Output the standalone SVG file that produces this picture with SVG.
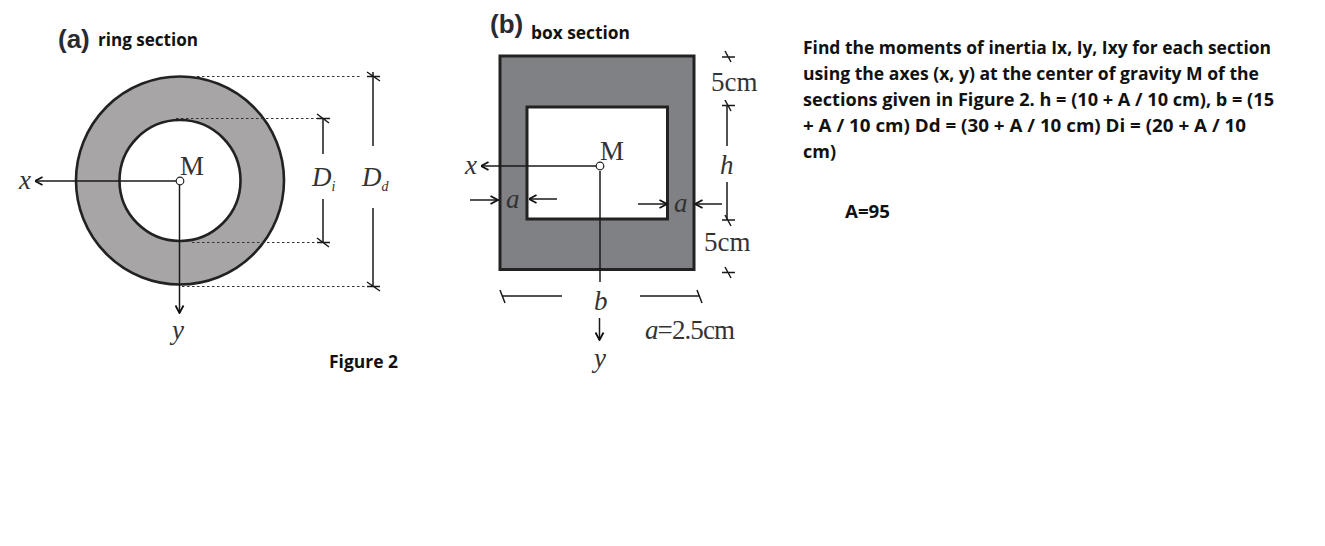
<svg xmlns="http://www.w3.org/2000/svg" width="1325" height="546" viewBox="0 0 1325 546">
<defs>
<marker id="ah" viewBox="0 0 10 10" refX="9.5" refY="5" markerWidth="10" markerHeight="10" markerUnits="userSpaceOnUse" orient="auto"><path d="M2 1L9.500 5L2 9" fill="none" stroke="#111" stroke-width="1.800"/></marker>
</defs>
<style>
.l{stroke:#1a1a1a;stroke-width:1.500;fill:none}
.a{stroke:#1a1a1a;stroke-width:1.500;fill:none;marker-end:url(#ah)}
.d{stroke:#333;stroke-width:1.200;stroke-dasharray:2.500 2.500;fill:none}
.s{font-family:"Open Sans","Liberation Sans",sans-serif;font-weight:700;font-size:18px;fill:#111}
.h{font-family:"Liberation Sans",Arial,sans-serif;font-weight:700;font-size:26px;fill:#2a2a33}
.t{font-family:"Liberation Serif","Times New Roman",serif;font-size:27px;fill:#333}
.i{font-style:italic}
.sm{font-size:14px}
.w{fill:#fff;stroke:#222;stroke-width:1.200}
</style>
<rect width="1325" height="546" fill="#fff"/>
<g id="ring-section">
<circle cx="180" cy="180.500" r="104" fill="#a7a5a6" stroke="#222" stroke-width="2.600"/>
<circle cx="180" cy="180.500" r="60.500" fill="#fff" stroke="#222" stroke-width="2.600"/>
</g>
<g id="box-section">
<rect x="500" y="56" width="194" height="213.500" fill="#808184" stroke="#222" stroke-width="3"/>
<rect x="527" y="107" width="140.500" height="112" fill="#fff" stroke="#222" stroke-width="3"/>
</g>
<g id="connectors">
<path class="d" d="M197 76.500H360M176 118.500H318M192 242.500H318M182 286.500H368"/>
<path class="a" d="M180 181H35"/>
<path class="a" d="M179.500 181V313"/>
<path class="l" d="M373 72V146M373 208V286M323 118V154M323 199V242"/>
<path class="l" d="M367 72L380 81M367 76.500H380M367 282L380 291M367 286.500H380M317 114L329 123M317 118.500H330M317 238L329 247M317 242.500H330"/>
<path class="a" d="M600 166H481"/>
<path class="l" d="M600 171V282"/>
<path class="a" d="M470 200H498"/>
<path class="a" d="M557 199H529"/>
<path class="a" d="M638 204H667"/>
<path class="a" d="M722 204H695"/>
<path class="l" d="M727 106V146M727 182V220"/>
<path class="l" d="M722 57H735M725 51L731 62M722 105.500H735M725 100L731 111M722 220H735M725 215L731 226M722 272.500H735M725 267L731 278"/>
<path class="l" d="M502 296H562M640 296H699M500 290L505 303M697 290L702 303"/>
<path class="a" d="M599.500 318V340"/>
</g>
<circle class="w" cx="180" cy="181" r="3.800"/>
<circle class="w" cx="600" cy="166" r="3.800"/>
<g id="labels-a">
<text class="h" x="58" y="48">(a)</text>
<text class="s" x="98" y="45.500" textLength="100" lengthAdjust="spacingAndGlyphs">ring section</text>
<text class="t i" x="19" y="189">x</text>
<text class="t" x="180" y="175">M</text>
<text class="t i" x="312" y="186">D<tspan class="sm" dy="5">i</tspan></text>
<text class="t i" x="362" y="186">D<tspan class="sm" dy="5">d</tspan></text>
<text class="t i" x="172" y="339">y</text>
<text class="s" x="329" y="367.500" textLength="69" lengthAdjust="spacingAndGlyphs">Figure 2</text>
</g>
<g id="labels-b">
<text class="h" x="490" y="33">(b)</text>
<text class="s" x="531" y="38.500" textLength="99" lengthAdjust="spacingAndGlyphs">box section</text>
<text class="t i" x="465" y="174">x</text>
<text class="t" x="600" y="160">M</text>
<text class="t" x="711" y="91">5cm</text>
<text class="t i" x="720" y="174">h</text>
<text class="t" x="704" y="251">5cm</text>
<text class="t i" x="506" y="208">a</text>
<text class="t i" x="674" y="212">a</text>
<text class="t i" x="594" y="310">b</text>
<text class="t i" x="594" y="367">y</text>
<text class="t" x="645" y="339" textLength="90"><tspan class="i">a</tspan>=2.5cm</text>
</g>
<g id="problem-text">
<text class="s" x="803" y="54" textLength="468" lengthAdjust="spacingAndGlyphs">Find the moments of inertia Ix, Iy, Ixy for each section</text>
<text class="s" x="803" y="80" textLength="456" lengthAdjust="spacingAndGlyphs">using the axes (x, y) at the center of gravity M of the</text>
<text class="s" x="803" y="106" textLength="471" lengthAdjust="spacingAndGlyphs">sections given in Figure 2. h = (10 + A / 10 cm), b = (15</text>
<text class="s" x="803" y="132" textLength="443" lengthAdjust="spacingAndGlyphs">+ A / 10 cm) Dd = (30 + A / 10 cm) Di = (20 + A / 10</text>
<text class="s" x="803" y="158" textLength="33" lengthAdjust="spacingAndGlyphs">cm)</text>
<text class="s" x="845" y="217.500" textLength="45" lengthAdjust="spacingAndGlyphs">A=95</text>
</g>
</svg>
